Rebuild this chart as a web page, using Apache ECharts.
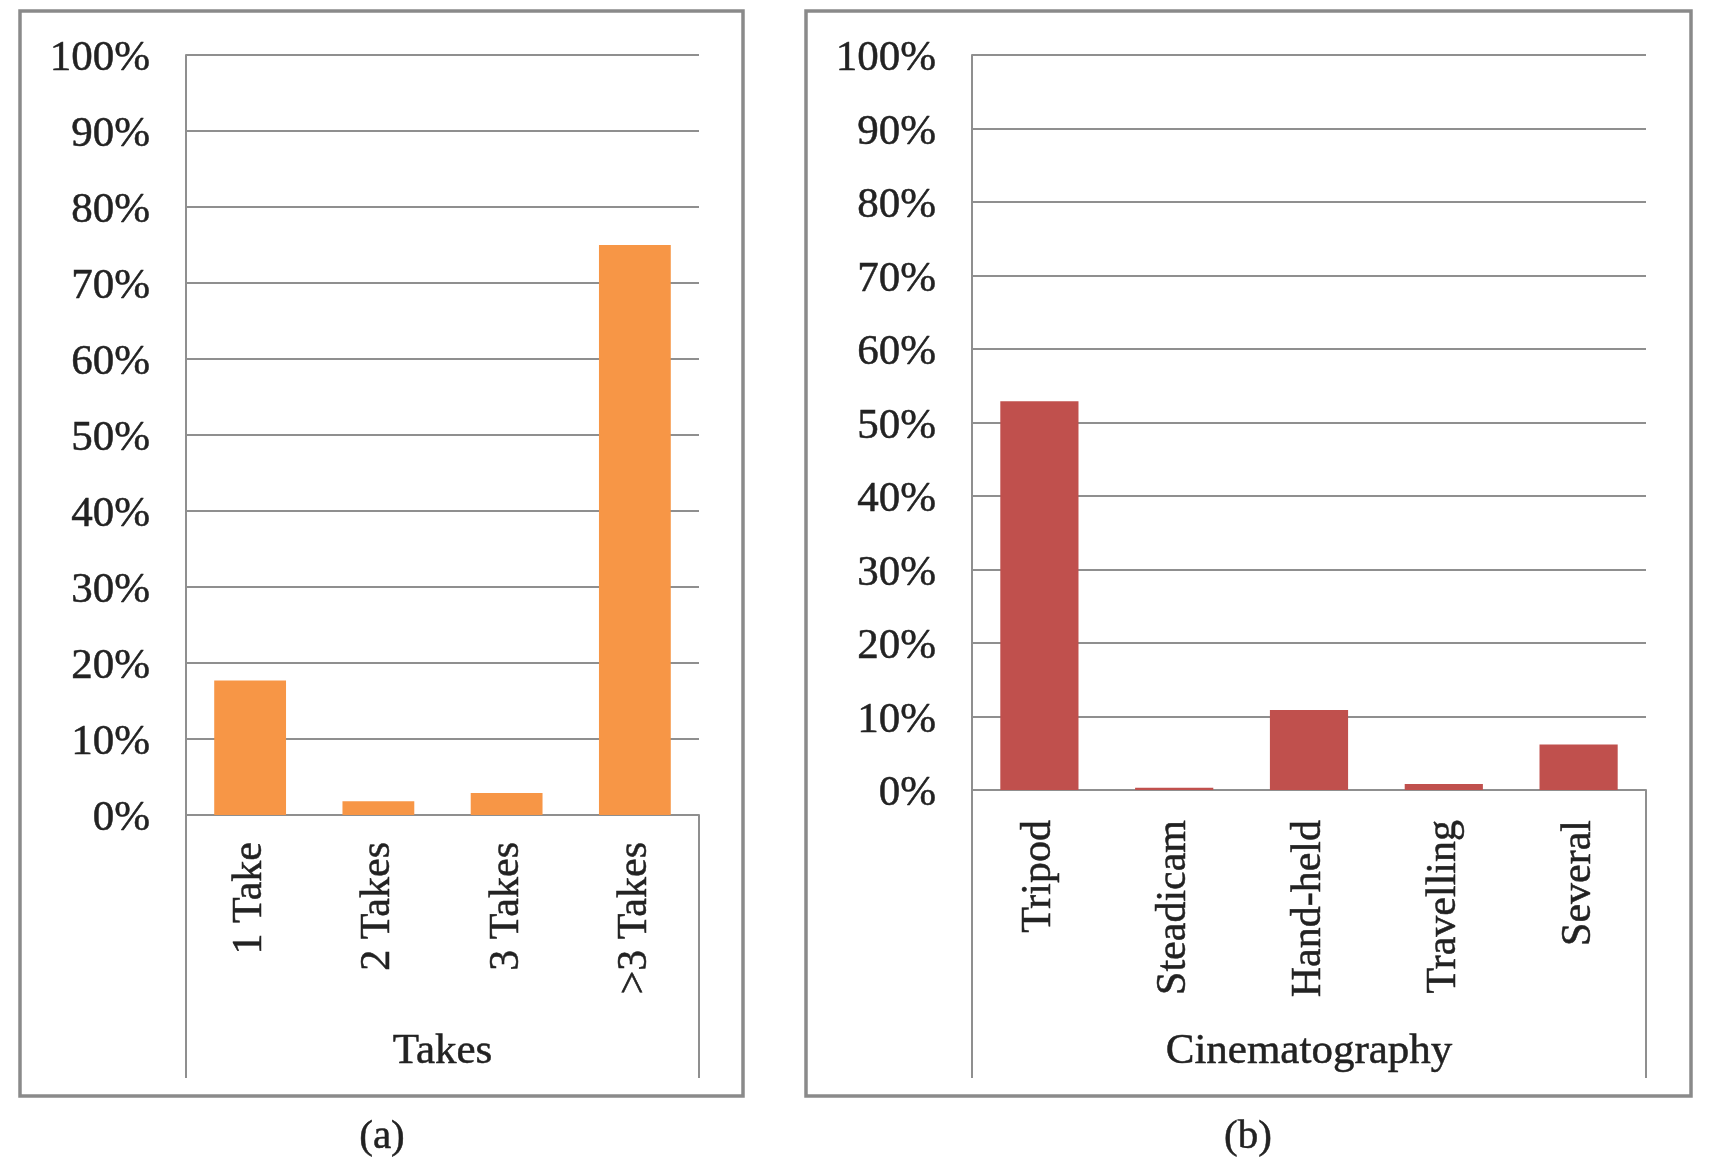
<!DOCTYPE html>
<html>
<head>
<meta charset="utf-8">
<script src="https://cdn.jsdelivr.net/npm/echarts@6/dist/echarts.min.js"></script>
<style>
html,body{margin:0;padding:0;background:#fff;}
#chart{width:1718px;height:1168px;}
</style>
</head>
<body>
<div id="chart"></div>
<script>
// ---- data ----
var takesCategories = ['1 Take', '2 Takes', '3 Takes', '>3 Takes'];
var takesValues = [0.177, 0.018, 0.029, 0.750];
var cineCategories = ['Tripod', 'Steadicam', 'Hand-held', 'Travelling', 'Several'];
var cineValues = [0.529, 0.003, 0.109, 0.008, 0.062];
var axisNames = ['Takes', 'Cinematography'];
var captions = ['(a)', '(b)'];

// ---- styling ----
var FONT = '"Liberation Serif", "DejaVu Serif", serif';
var TXT = '#222222';
var LINE = '#8f8f8f';
var BORDER = '#8a8a8a';
var THICK = 0.5;

var grids = [
  {left: 186, top: 55, width: 513, height: 760},
  {left: 972, top: 55, width: 674, height: 735}
];

function pct(v){ return '{p|' + Math.round(v * 100) + '%}'; }

function yAxis(i){
  return {
    type: 'value', gridIndex: i, min: 0, max: 1, interval: 0.1,
    axisLine: {show: true, lineStyle: {color: LINE, width: 2}},
    axisTick: {show: false},
    splitLine: {show: true, lineStyle: {color: LINE, width: 2}},
    axisLabel: {formatter: pct, margin: 36,
      rich: {p: {color: TXT, fontFamily: FONT, fontSize: 43, padding: [8, 0, 0, 0],
        textBorderColor: TXT, textBorderWidth: THICK}}}
  };
}
function xAxis(i, cats, name, margin, nameGap){
  return {
    type: 'category', gridIndex: i, data: cats,
    axisLine: {show: true, lineStyle: {color: LINE, width: 2}},
    axisTick: {show: false},
    axisLabel: {rotate: 90, color: TXT, fontFamily: FONT, fontSize: 42, margin: margin, interval: 0,
      textBorderColor: TXT, textBorderWidth: THICK},
    name: name, nameLocation: 'middle', nameGap: nameGap,
    nameTextStyle: {color: TXT, fontFamily: FONT, fontSize: 43, verticalAlign: 'top',
      textBorderColor: TXT, textBorderWidth: THICK}
  };
}

var graphics = [];
// panel borders
graphics.push({type: 'rect', shape: {x: 20, y: 11, width: 723, height: 1085}, style: {fill: 'none', stroke: BORDER, lineWidth: 3.5}, z: 0});
graphics.push({type: 'rect', shape: {x: 806, y: 11, width: 885, height: 1085}, style: {fill: 'none', stroke: BORDER, lineWidth: 3.5}, z: 0});
// vertical frame lines below the category axes
grids.forEach(function(g){
  var yb = g.top + g.height;
  [g.left, g.left + g.width].forEach(function(x){
    graphics.push({type: 'line', shape: {x1: x, y1: yb, x2: x, y2: 1078}, style: {stroke: LINE, lineWidth: 2}});
  });
});
// captions
[382, 1248].forEach(function(x, k){
  graphics.push({type: 'text', x: x, y: 1137, style: {text: captions[k], fontFamily: FONT, fontSize: 41, fill: TXT,
    align: 'center', verticalAlign: 'middle', stroke: TXT, lineWidth: THICK}});
});

var chart = echarts.init(document.getElementById('chart'), null, {renderer: 'canvas'});
chart.setOption({
  backgroundColor: '#ffffff',
  animation: false,
  grid: grids,
  xAxis: [
    xAxis(0, takesCategories, axisNames[0], 27, 215),
    xAxis(1, cineCategories, axisNames[1], 30, 240)
  ],
  yAxis: [yAxis(0), yAxis(1)],
  series: [
    {type: 'bar', xAxisIndex: 0, yAxisIndex: 0, data: takesValues, barCategoryGap: '44%', itemStyle: {color: '#F79646'}},
    {type: 'bar', xAxisIndex: 1, yAxisIndex: 1, data: cineValues, barCategoryGap: '42%', itemStyle: {color: '#C0504D'}}
  ],
  graphic: graphics
});
</script>
</body>
</html>
